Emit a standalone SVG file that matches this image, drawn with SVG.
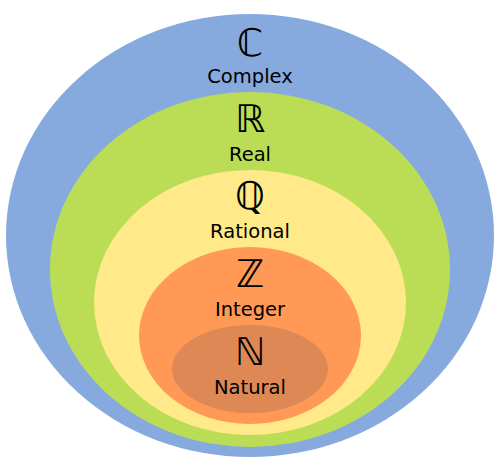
<svg xmlns="http://www.w3.org/2000/svg" width="500" height="466" viewBox="0 0 500 466">
<style>
text{font-family:"DejaVu Sans","Noto Sans",sans-serif;fill:#000;text-anchor:middle}
.sym{font-size:38px}
.lbl{font-size:19.5px}
</style>
<rect width="500" height="466" fill="#fff"/>
<g id="complex">
<ellipse cx="250" cy="235.5" rx="244" ry="221.5" fill="#87aade"/>
<text class="sym" x="250" y="56">ℂ</text>
<text class="lbl" x="250" y="83">Complex</text>
</g>
<g id="real">
<ellipse cx="250" cy="269.5" rx="200" ry="177.5" fill="#bbdd55"/>
<text class="sym" x="250" y="132">ℝ</text>
<text class="lbl" x="250" y="161">Real</text>
</g>
<g id="rational">
<ellipse cx="250" cy="302.5" rx="156" ry="132.5" fill="#ffe989"/>
<text class="sym" x="250" y="209">ℚ</text>
<text class="lbl" x="250" y="238">Rational</text>
</g>
<g id="integer">
<ellipse cx="250" cy="335.5" rx="111" ry="88.5" fill="#ff9955"/>
<text class="sym" x="250" y="287">ℤ</text>
<text class="lbl" x="250" y="316">Integer</text>
</g>
<g id="natural">
<ellipse cx="250" cy="369" rx="78" ry="44" fill="#dd8855"/>
<text class="sym" x="250" y="365">ℕ</text>
<text class="lbl" x="250" y="394">Natural</text>
</g>
<g id="connectors"/>
</svg>
